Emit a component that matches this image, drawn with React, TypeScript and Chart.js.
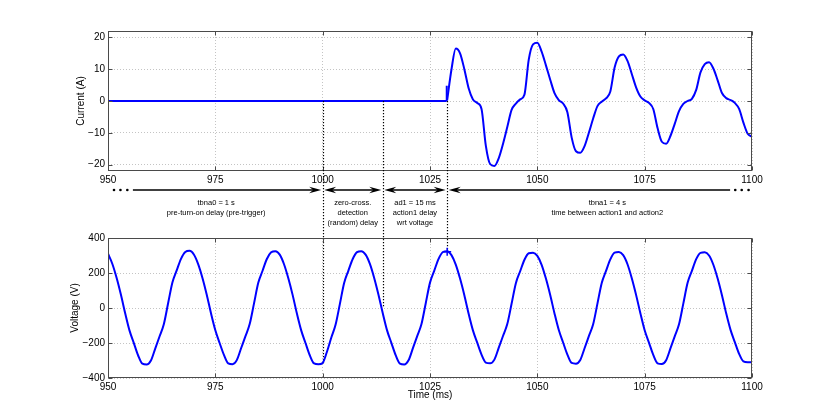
import React, { useEffect, useRef } from "react";
import { Chart, registerables } from "chart.js";

Chart.register(...registerables);

// ---------- data ----------
const xTicksMs = [950, 975, 1000, 1025, 1050, 1075, 1100];
const currentTicksA = [-20, -10, 0, 10, 20];
const voltageTicksV = [-400, -200, 0, 200, 400];

// voltage sampled every 1 ms from 950 to 1100 ms
const voltageTimeMs = Array.from({ length: 151 }, (_, i) => 950 + i);
const voltageV = [
  310, 253, 173, 77, -30, -128, -199, -270, -318, -323, -300, -232, -163, -93, 27, 146, 215, 281, 320, 327,
  306, 251, 172, 76, -31, -127, -200, -268, -316, -321, -298, -230, -162, -92, 25, 144, 213, 280, 318, 325,
  305, 250, 170, 75, -32, -128, -200, -270, -317, -322, -314, -250, -170, -96, 22, 143, 214, 280, 319, 325,
  305, 252, 172, 76, -30, -128, -199, -269, -318, -323, -299, -231, -162, -93, 26, 145, 214, 281, 320, 325,
  302, 248, 168, 73, -33, -128, -198, -266, -312, -316, -295, -228, -160, -92, 24, 142, 210, 276, 313, 316,
  298, 247, 168, 74, -31, -126, -197, -266, -314, -318, -297, -230, -161, -93, 25, 143, 212, 278, 316, 320,
  302, 250, 170, 75, -30, -127, -198, -268, -316, -320, -298, -231, -162, -93, 25, 144, 212, 279, 315, 318,
  300, 247, 168, 73, -32, -125, -195, -262, -305, -310, -310,
];

// current: zero before the trigger, a short spike, then the inrush waveform
const preTriggerTimeMs = [950, 1028.9];
const preTriggerA = [0, 0];
const spikeTimeMs = [1028.9, 1028.9];
const spikeA = [0, 4.8];
const currentTimeMs = Array.from({ length: 72 }, (_, i) => 1029 + i);
const currentA = [
  0.3, 9.9, 16.5, 15.0, 10.0, 4.0, 0.5, -0.6, -2.5, -14.0,
  -19.8, -20.4, -18.0, -13.5, -8.2, -2.8, -0.8, 0.5, 2.0, 13.0,
  17.8, 18.3, 15.5, 11.2, 6.7, 2.5, 0.3, -0.8, -3.5, -11.5,
  -15.8, -16.3, -14.2, -10.0, -5.5, -1.6, -0.2, 0.8, 3.0, 10.5,
  14.0, 14.6, 12.6, 8.5, 4.3, 1.4, 0.2, -0.6, -2.5, -8.5,
  -12.8, -13.4, -11.0, -7.2, -3.2, -0.9, 0.0, 0.7, 3.5, 9.0,
  11.6, 12.2, 10.2, 6.5, 2.5, 0.9, 0.3, -0.6, -2.5, -6.8,
  -10.3, -11.2,
];

// markers / annotations
const peakMarkerTimeMs = [1029];
const peakMarkerV = [322];
const eventTimesMs = [1000, 1014, 1029];
const eventVoltageV = [-318, 0, 322];
const spanStartMs = [955.8, 1000, 1014, 1029];
const spanEndMs = [1000, 1014, 1029, 1094.9];
const spanStartHead = [false, true, true, true];
const spanEndHead = [true, true, true, false];
const leadDotsMs = [951.4, 952.9, 954.5];
const trailDotsMs = [1096.1, 1097.6, 1099.2];
const spanLabelCentersMs = [975.2, 1007, 1021.5, 1066.3];
const spanLabels = [
  ["tbna0 = 1 s", "pre-turn-on delay (pre-trigger)"],
  ["zero-cross.", "detection", "(random) delay"],
  ["ad1 = 15 ms", "action1 delay", "wrt voltage"],
  ["tbna1 = 4 s", "time between action1 and action2"],
];

// ---------- styling ----------
const FONT = '"Liberation Sans", Arial, Helvetica, sans-serif';
const BLUE = "#0000ff";
const FRAME = "#4a4a4a";
const ARROW_Y = 190;
const LABEL_Y0 = 202.5;
const LABEL_STEP = 10.2;

const fmt = (v: number) => (v < 0 ? "\u2212" + Math.abs(v) : String(v));
const pts = (xs: number[], ys: number[]) => xs.map((x, i) => ({ x, y: ys[i] }));

function xScale(withTitle: boolean, height: number): any {
  return {
    type: "linear",
    min: 950,
    max: 1100,
    afterBuildTicks: (ax: any) => {
      ax.ticks = xTicksMs.map((v) => ({ value: v }));
    },
    afterFit: (ax: any) => {
      ax.height = height;
      ax.paddingLeft = 0;
      ax.paddingRight = 0;
    },
    ticks: {
      font: { family: FONT, size: 10 },
      color: "#000",
      padding: 3,
      maxRotation: 0,
      autoSkip: false,
      callback: (v: any) => fmt(Number(v)),
    },
    grid: { color: "#c4c4c4", lineWidth: 1, drawTicks: false },
    border: { display: false, dash: [1, 2] },
    title: withTitle
      ? {
          display: true,
          text: "Time (ms)",
          font: { family: FONT, size: 10 },
          color: "#000",
          padding: { top: 0, bottom: 8.5 },
        }
      : { display: false },
  };
}

function yScale(min: number, max: number, ticks: number[], title: string, titlePad: number): any {
  return {
    type: "linear",
    min,
    max,
    afterBuildTicks: (ax: any) => {
      ax.ticks = ticks.map((v) => ({ value: v }));
    },
    afterFit: (ax: any) => {
      ax.width = 108;
      ax.paddingTop = 0;
      ax.paddingBottom = 0;
    },
    ticks: {
      font: { family: FONT, size: 10 },
      color: "#000",
      padding: 3,
      callback: (v: any) => fmt(Number(v)),
    },
    grid: { color: "#c4c4c4", lineWidth: 1, drawTicks: false },
    border: { display: false, dash: [1, 2] },
    title: {
      display: true,
      text: title,
      font: { family: FONT, size: 10 },
      color: "#000",
      padding: { top: titlePad, bottom: 0 },
    },
  };
}

const framePlugin: any = {
  id: "frame",
  afterDraw(chart: any) {
    const { ctx, chartArea: a, scales } = chart;
    const L = Math.round(a.left) + 0.5;
    const R = Math.round(a.right) - 0.5;
    const T = Math.round(a.top) + 0.5;
    const B = Math.round(a.bottom) - 0.5;
    ctx.save();
    ctx.strokeStyle = FRAME;
    ctx.lineWidth = 1;
    ctx.setLineDash([]);
    ctx.strokeRect(L, T, R - L, B - T);
    const tl = 4;
    ctx.beginPath();
    for (const t of scales.x.ticks) {
      const px = Math.round(scales.x.getPixelForValue(t.value)) + 0.5;
      ctx.moveTo(px, B);
      ctx.lineTo(px, B - tl);
      ctx.moveTo(px, T);
      ctx.lineTo(px, T + tl);
    }
    for (const t of scales.y.ticks) {
      const py = Math.round(scales.y.getPixelForValue(t.value)) + 0.5;
      ctx.moveTo(L, py);
      ctx.lineTo(L + tl, py);
      ctx.moveTo(R, py);
      ctx.lineTo(R - tl, py);
    }
    ctx.stroke();
    ctx.restore();
  },
};

function drawHead(ctx: CanvasRenderingContext2D, tipX: number, y: number, dir: number) {
  const len = 12;
  const half = 3.3;
  const notch = 4;
  ctx.beginPath();
  ctx.moveTo(tipX, y);
  ctx.lineTo(tipX - dir * len, y - half);
  ctx.lineTo(tipX - dir * (len - notch), y);
  ctx.lineTo(tipX - dir * len, y + half);
  ctx.closePath();
  ctx.fill();
}

function makeAnnotationPlugin(getTop: () => any): any {
  return {
    id: "annotations",
    beforeDatasetsDraw(chart: any) {
      const top = getTop();
      if (!top) return;
      const { ctx } = chart;
      const xs = chart.scales.x;
      const yV = chart.scales.y;
      const yA = top.scales.y;
      ctx.save();
      ctx.strokeStyle = "#000";
      ctx.lineWidth = 1.2;
      ctx.setLineDash([1.2, 1.8]);
      eventTimesMs.forEach((t, i) => {
        const px = Math.round(xs.getPixelForValue(t)) + 0.5;
        ctx.beginPath();
        ctx.moveTo(px, yA.getPixelForValue(0));
        ctx.lineTo(px, yV.getPixelForValue(eventVoltageV[i]));
        ctx.stroke();
      });
      ctx.restore();
    },
    afterDraw(chart: any) {
      const { ctx } = chart;
      const xs = chart.scales.x;
      ctx.save();
      ctx.fillStyle = "#000";
      ctx.strokeStyle = "#000";
      ctx.lineWidth = 1.5;
      ctx.setLineDash([]);
      spanStartMs.forEach((s, i) => {
        let x0 = xs.getPixelForValue(s);
        let x1 = xs.getPixelForValue(spanEndMs[i]);
        if (spanStartHead[i]) x0 += 1.5;
        if (spanEndHead[i]) x1 -= 1.5;
        ctx.beginPath();
        ctx.moveTo(x0 + (spanStartHead[i] ? 6 : 0), ARROW_Y);
        ctx.lineTo(x1 - (spanEndHead[i] ? 6 : 0), ARROW_Y);
        ctx.stroke();
        if (spanStartHead[i]) drawHead(ctx, x0, ARROW_Y, -1);
        if (spanEndHead[i]) drawHead(ctx, x1, ARROW_Y, 1);
      });
      for (const d of [...leadDotsMs, ...trailDotsMs]) {
        ctx.beginPath();
        ctx.arc(xs.getPixelForValue(d), ARROW_Y, 1.3, 0, Math.PI * 2);
        ctx.fill();
      }
      ctx.font = `7.5px ${FONT}`;
      ctx.textAlign = "center";
      ctx.textBaseline = "middle";
      spanLabels.forEach((lines, i) => {
        const cx = xs.getPixelForValue(spanLabelCentersMs[i]);
        lines.forEach((ln, j) => ctx.fillText(ln, cx, LABEL_Y0 + j * LABEL_STEP));
      });
      ctx.restore();
    },
  };
}

const lineStyle = {
  borderColor: BLUE,
  backgroundColor: BLUE,
  borderWidth: 2,
  pointRadius: 0,
  fill: false,
};

export default function App() {
  const topRef = useRef<HTMLCanvasElement>(null);
  const botRef = useRef<HTMLCanvasElement>(null);

  useEffect(() => {
    document.body.style.margin = "0";
    let topChart: any = null;
    topChart = new Chart(topRef.current!, {
      type: "line",
      data: {
        datasets: [
          { ...lineStyle, data: pts(preTriggerTimeMs, preTriggerA) },
          { ...lineStyle, data: pts(spikeTimeMs, spikeA) },
          { ...lineStyle, data: pts(currentTimeMs, currentA), cubicInterpolationMode: "monotone" },
        ] as any,
      },
      options: {
        responsive: false,
        animation: false,
        devicePixelRatio: 1,
        layout: { padding: { left: 0, right: 78, top: 31, bottom: 219 } },
        plugins: { legend: { display: false }, tooltip: { enabled: false } },
        scales: {
          x: xScale(false, 20),
          y: yScale(-22, 22, currentTicksA, "Current (A)", 75.7),
        },
      } as any,
      plugins: [framePlugin],
    });

    const botChart = new Chart(botRef.current!, {
      type: "line",
      data: {
        datasets: [
          { ...lineStyle, data: pts(voltageTimeMs, voltageV), cubicInterpolationMode: "monotone" },
          {
            data: pts(peakMarkerTimeMs, peakMarkerV),
            showLine: false,
            pointStyle: "cross",
            pointRadius: 4,
            borderWidth: 1.5,
            borderColor: BLUE,
            backgroundColor: BLUE,
          },
        ] as any,
      },
      options: {
        responsive: false,
        animation: false,
        devicePixelRatio: 1,
        layout: { padding: { left: 0, right: 78, top: 238, bottom: 0 } },
        plugins: { legend: { display: false }, tooltip: { enabled: false } },
        scales: {
          x: xScale(true, 32),
          y: yScale(-400, 400, voltageTicksV, "Voltage (V)", 69.5),
        },
      } as any,
      plugins: [framePlugin, makeAnnotationPlugin(() => topChart)],
    });

    return () => {
      botChart.destroy();
      topChart.destroy();
    };
  }, []);

  return (
    <div style={{ position: "absolute", left: 0, top: 0, width: 830, height: 410, background: "#fff" }}>
      <canvas ref={topRef} width={830} height={410} style={{ position: "absolute", left: 0, top: 0 }} />
      <canvas ref={botRef} width={830} height={410} style={{ position: "absolute", left: 0, top: 0 }} />
    </div>
  );
}
